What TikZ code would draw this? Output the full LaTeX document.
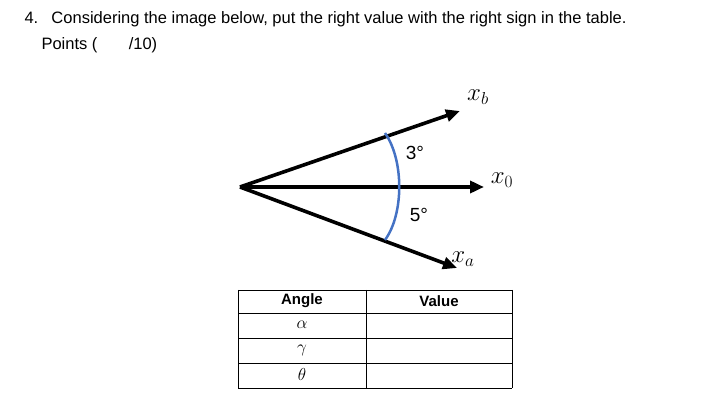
\documentclass[tikz,border=0pt]{standalone}
\usepackage{fontspec}
\setmainfont{Liberation Sans}
\usetikzlibrary{arrows.meta}
\begin{document}
\begin{tikzpicture}[x=1pt,y=-1pt,
  vec/.style={line width=3.6pt,-{Triangle[length=14pt,width=12pt]}},
  lbl/.style={font=\fontsize{23}{25}\selectfont},
  cell/.style={draw=black,line width=0.8pt}]
\useasboundingbox (0,0) rectangle (705,414);
\node[anchor=west,font=\fontsize{16.5}{18}\selectfont] (t1) at (21,19) {4.\hspace{0.8em}Considering the image below, put the right value with the right sign in the table.};
\node[anchor=west,font=\fontsize{16.5}{18}\selectfont] (t2) at (38,45) {Points (\hspace{1.9em}/10)};
\coordinate (o) at (240,187);
\coordinate (b) at (460,111);
\coordinate (z) at (484,187);
\coordinate (a) at (457,268);
\draw[vec] (o) -- (b);
\draw[vec] (o) -- (z);
\draw[vec] (o) -- (a);
\draw[draw={rgb,255:red,68;green,114;blue,196},line width=2.5pt] (385,133) .. controls (404,160) and (404,214) .. (385,240);
\node[lbl] (xb) at (478,97) {$x_b$};
\node[lbl] (x0) at (502,180) {$x_0$};
\node[lbl] (xa) at (463,259) {$x_a$};
\node[font=\fontsize{19}{21}\selectfont] (d3) at (415,153) {3°};
\node[font=\fontsize{19}{21}\selectfont] (d5) at (419,215) {5°};
\foreach \y in {290,313,338,363,388} \draw[cell] (238,\y) -- (512,\y);
\foreach \x in {238,366,512} \draw[cell] (\x,290) -- (\x,388);
\node[font=\bfseries\fontsize{15}{17}\selectfont] (h1) at (302,301) {Angle};
\node[font=\bfseries\fontsize{15}{17}\selectfont] (h2) at (439,301) {Value};
\node[font=\fontsize{17}{19}\selectfont] (r1) at (302,325) {$\alpha$};
\node[font=\fontsize{17}{19}\selectfont] (r2) at (302,350) {$\gamma$};
\node[font=\fontsize{17}{19}\selectfont] (r3) at (302,375) {$\theta$};
\end{tikzpicture}
\end{document}
